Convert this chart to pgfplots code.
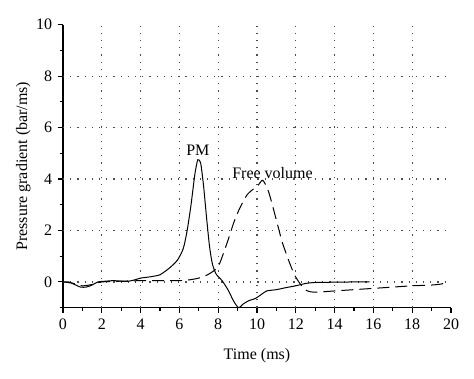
\documentclass[border=0pt]{standalone}
\usepackage{pgfplots}
\pgfplotsset{compat=1.18}
\usepackage{fontspec}
\setmainfont{Liberation Serif}
\begin{document}
\fontsize{12}{14}\selectfont
\begin{tikzpicture}
\begin{axis}[
  scale only axis, width=291pt, height=212.25pt,
  xmin=0, xmax=20, ymin=-1, ymax=10,
  axis x line=bottom, axis y line=left,
  axis line style={line width=1pt, -},
  xtick={0,2,...,20}, ytick={0,2,...,10},
  minor xtick={1,3,...,19}, minor ytick={-1,1,3,5,7,9},
  extra x ticks={2,4,...,18}, extra x tick labels={},
  extra y ticks={0,2,...,8}, extra y tick labels={},
  extra tick style={grid=major, major tick length=0pt},
  tick style={black, line width=0.8pt},
  major tick length=4pt, minor tick length=2.5pt,
  tick align=outside,
  major grid style={dash pattern=on 0.9pt off 4.5pt, gray!60!black, line width=0.9pt},
  /pgf/number format/assume math mode=true,
  tick label style={font=\fontsize{12}{14}\selectfont},
  xlabel={Time (ms)}, ylabel={Pressure gradient (bar/ms)},
  label style={font=\fontsize{12}{14}\selectfont},
  xlabel style={yshift=-2pt},
  ylabel style={yshift=-8pt},
  clip=false,
]
\addplot[black, line width=0.75pt, smooth, tension=0.4] coordinates {
(0,0) (0.3,0) (0.6,-0.1) (0.9,-0.2) (1.2,-0.2) (1.5,-0.12) (1.8,0) (2.2,0.03) (2.6,0.05) (3,0.03) (3.3,0.02) (3.7,0.08) (4,0.15) (4.5,0.2) (5,0.28) (5.5,0.55) (5.9,0.85) (6.2,1.3) (6.4,2.0) (6.6,3.0) (6.8,4.2) (6.95,4.75) (7.1,4.6) (7.25,3.7) (7.4,2.5) (7.55,1.4) (7.7,0.7) (7.9,0.3) (8.2,0.05) (8.5,-0.3) (8.8,-0.75) (9.05,-1.0) (9.3,-0.85) (9.6,-0.72) (9.9,-0.65) (10.2,-0.5) (10.5,-0.35) (11,-0.3) (11.5,-0.22) (12,-0.15) (12.5,-0.06) (13,-0.02) (14,-0.01) (15,0) (15.8,0)
};
\addplot[black, line width=0.75pt, dash pattern=on 9pt off 4.5pt, smooth, tension=0.4] coordinates {
(0,0) (0.5,-0.05) (1,-0.15) (1.5,-0.1) (2,0) (3,0.03) (4,0.05) (5,0.05) (6,0.05) (6.5,0.08) (7,0.15) (7.5,0.3) (8,0.6) (8.45,1.5) (8.8,2.3) (9.1,2.85) (9.5,3.4) (9.8,3.6) (10.05,3.75) (10.3,3.95) (10.6,3.5) (11,2.4) (11.3,1.55) (11.65,0.8) (11.95,0.25) (12.3,-0.15) (12.6,-0.35) (13,-0.4) (14,-0.35) (15,-0.3) (16,-0.25) (17,-0.2) (18,-0.15) (19,-0.12) (19.5,-0.08) (19.8,0)
};
\node[anchor=south] at (axis cs:6.95,4.7) {PM};
\node[anchor=south] at (axis cs:10.8,3.8) {Free volume};
\end{axis}
\path[use as bounding box] (-47.25pt,-53.25pt) rectangle (308.25pt,230.75pt);
\end{tikzpicture}
\end{document}
